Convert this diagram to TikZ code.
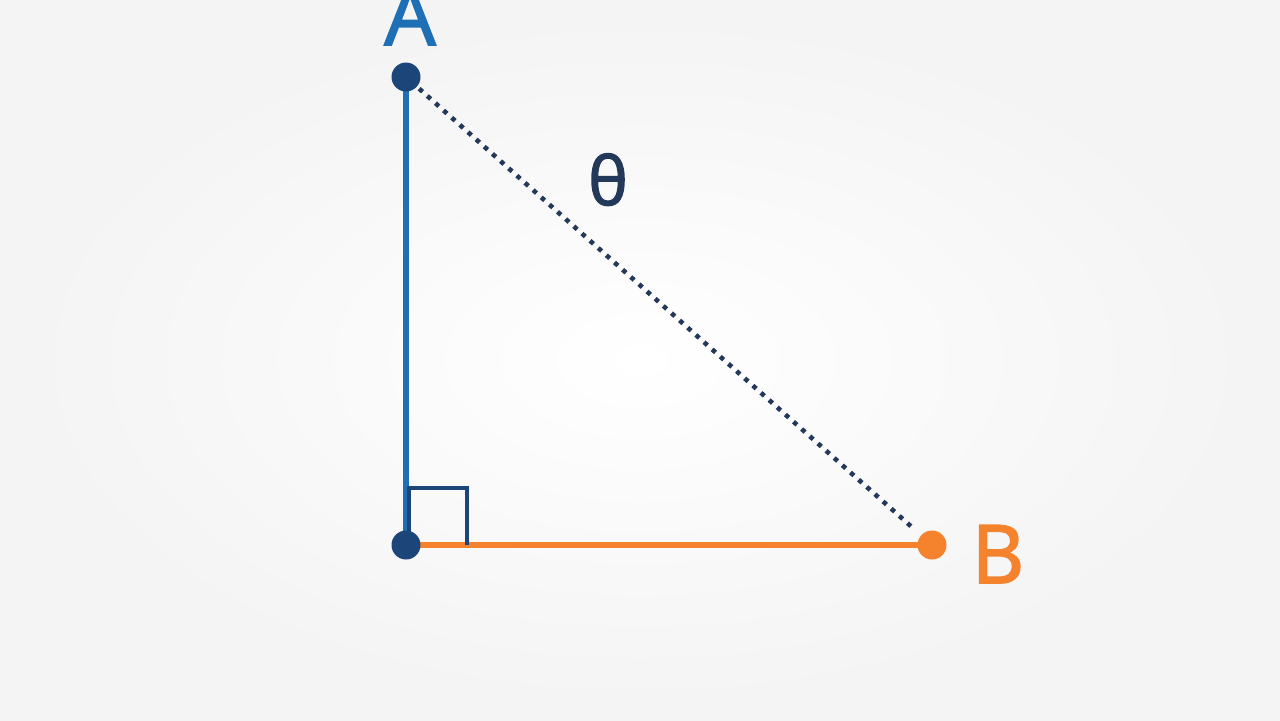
\documentclass[tikz,border=0pt]{standalone}
\usepackage{fontspec}
\setmainfont{Open Sans}
\newfontfamily\lblfont{Open Sans}[FakeBold=2.2]
\usetikzlibrary{positioning,calc}

\definecolor{legblue}{HTML}{1F6FB6}
\definecolor{navy}{HTML}{1C4679}
\definecolor{legorange}{HTML}{F5832E}
\definecolor{hypo}{HTML}{22395A}

\tikzset{
  pt/.style={circle,inner sep=0pt,minimum size=#1},
  lbl/.style={inner sep=0pt,anchor=base,font=\fontsize{46}{50}\lblfont},
}

\begin{document}
\begin{tikzpicture}[x=0.02cm,y=-0.02cm]
  \useasboundingbox (0,0) rectangle (1280,720);
  \fill[inner color=white,outer color=gray!9] (0,0) rectangle (1280,720);

  \coordinate (O) at (406,545);
  \coordinate (A) at (406,77);
  \coordinate (B) at (932,545);

  % legs and right angle
  \draw[legblue,line width=2.9pt] (A) -- (O);
  \draw[legorange,line width=3pt] (O) -- (B);
  \draw[navy,line width=1.8pt] ($(O)+(3,0)$) |- ($(O)+(61,-57)$) -- ($(O)+(61,0)$);

  % hypotenuse
  \draw[hypo,line width=2.6pt,dash pattern=on 2.6pt off 3.6pt]
    ($(A)!0.025!(B)$) -- ($(A)!0.965!(B)$);

  % points
  \node[pt=16.5pt,fill=navy] (a) at (A) {};
  \node[pt=16.5pt,fill=navy] (o) at (O) {};
  \node[pt=16.5pt,fill=legorange] (b) at (B) {};

  % labels
  \node[lbl,text=legblue] (la) at (410,45) {A};
  \node[lbl,text=legorange] (lb) at (998,583) {B};
  \node[lbl,text=hypo,font=\fontsize{38}{40}\lblfont] (th) at (608,205) {θ};
\end{tikzpicture}
\end{document}
